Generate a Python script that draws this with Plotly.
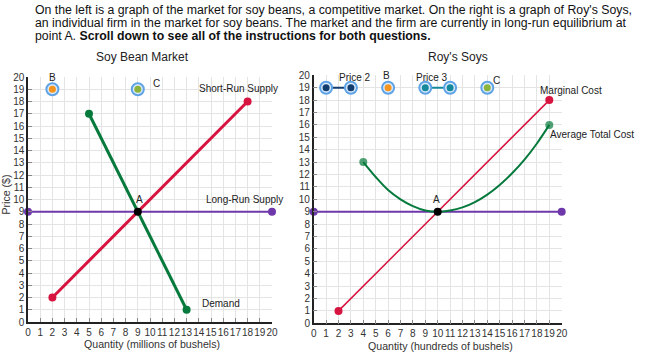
import plotly.graph_objects as go

# ---------------- data ----------------
intro_lines = [
    "On the left is a graph of the market for soy beans, a competitive market. On the right is a graph of Roy's Soys,",
    "an individual firm in the market for soy beans. The market and the firm are currently in long-run equilibrium at",
    "point A. <b>Scroll down to see all of the instructions for both questions.</b>",
]
left_title = "Soy Bean Market"
right_title = "Roy's Soys"

tick_vals = list(range(0, 21))

# Left: market
demand_q = [5, 13]
demand_p = [17, 1]
srs_q = [2, 18]
srs_p = [2, 18]
lrs_q = [0, 20]
lrs_p = [9, 9]
mkt_A = (9, 9)
mkt_B = (2, 19)
mkt_C = (9, 19)

# Right: firm
mc_q = [2, 19]
mc_p = [1, 18]
atc_q = [4, 5, 6, 7, 8, 9, 10, 11, 12, 13, 14, 15, 16, 17, 18, 19]
atc_p = [13, 11.8, 10.75, 10.0, 9.45, 9.1, 9.0, 9.1, 9.35, 9.78, 10.38, 11.16, 12.1, 13.2, 14.5, 16]
price_q = [0, 20]
price_p = [9, 9]
price2_q = [1, 3]
price2_p = [19, 19]
price3_q = [9, 11]
price3_p = [19, 19]
firm_A = (10, 9)
firm_B = (6, 19)
firm_C = (14, 19)

# ---------------- styles ----------------
W, H = 648, 357
FONT = "Liberation Sans, Arial, sans-serif"
GREEN = "#067a3c"
RED = "#d7143f"
PURPLE = "#6e37aa"
ORANGE = "#f7941d"
LIME = "#8cb43c"
NAVY = "#123d6e"
TEAL = "#14899c"
RING = "#5fa3e6"
RING_FILL = "#d9eafb"


def px_x(p):
    return p / W


def px_y(p):
    return 1 - p / H


fig = go.Figure()


def line(xs, ys, color, width, ax, marker_size=8, ends_only=False):
    xa, ya = ("x", "y") if ax == 1 else ("x2", "y2")
    if ends_only:
        sizes = [marker_size if i in (0, len(xs) - 1) else 0 for i in range(len(xs))]
    else:
        sizes = marker_size
    fig.add_trace(go.Scatter(
        x=xs, y=ys, mode="lines+markers", xaxis=xa, yaxis=ya,
        line=dict(color=color, width=width, shape="spline" if ends_only else "linear", smoothing=1.0),
        marker=dict(color=color, size=sizes, line=dict(width=0)),
        cliponaxis=False, showlegend=False, hoverinfo="skip"))


def ring_points(xs, ys, color, ax, connect=False):
    xa, ya = ("x", "y") if ax == 1 else ("x2", "y2")
    if connect:
        fig.add_trace(go.Scatter(x=xs, y=ys, mode="lines", xaxis=xa, yaxis=ya,
                                 line=dict(color=color, width=2), cliponaxis=False,
                                 showlegend=False, hoverinfo="skip"))
    fig.add_trace(go.Scatter(x=xs, y=ys, mode="markers", xaxis=xa, yaxis=ya,
                             marker=dict(color=RING_FILL, size=12, line=dict(color=RING, width=2)),
                             cliponaxis=False, showlegend=False, hoverinfo="skip"))
    fig.add_trace(go.Scatter(x=xs, y=ys, mode="markers", xaxis=xa, yaxis=ya,
                             marker=dict(color=color, size=7, line=dict(width=0)),
                             cliponaxis=False, showlegend=False, hoverinfo="skip"))


# Left chart
line(lrs_q, lrs_p, PURPLE, 2, 1, 8)
line(srs_q, srs_p, RED, 3, 1, 8)
line(demand_q, demand_p, GREEN, 3, 1, 8)
fig.add_trace(go.Scatter(x=[mkt_A[0]], y=[mkt_A[1]], mode="markers", marker=dict(color="black", size=8),
                         cliponaxis=False, showlegend=False, hoverinfo="skip"))
ring_points([mkt_B[0]], [mkt_B[1]], ORANGE, 1)
ring_points([mkt_C[0]], [mkt_C[1]], LIME, 1)

# Right chart
line(price_q, price_p, PURPLE, 2, 2, 8)
line(mc_q, mc_p, RED, 1.5, 2, 8)
line(atc_q, atc_p, GREEN, 2, 2, 8, ends_only=True)
fig.add_trace(go.Scatter(x=[firm_A[0]], y=[firm_A[1]], mode="markers", xaxis="x2", yaxis="y2",
                         marker=dict(color="black", size=8), cliponaxis=False,
                         showlegend=False, hoverinfo="skip"))
ring_points(price2_q, price2_p, NAVY, 2, connect=True)
ring_points([firm_B[0]], [firm_B[1]], ORANGE, 2)
ring_points(price3_q, price3_p, TEAL, 2, connect=True)
ring_points([firm_C[0]], [firm_C[1]], LIME, 2)

axis_common = dict(
    range=[0, 20], tickvals=tick_vals, ticktext=[str(v) for v in tick_vals],
    showgrid=True, gridcolor="#e4e4e4", gridwidth=1,
    showline=True, linecolor="#222", linewidth=1.5,
    ticks="inside", ticklen=4, tickcolor="#888", tickwidth=1,
    zeroline=False, fixedrange=True, automargin=False, tickangle=0,
    tickfont=dict(family=FONT, size=10, color="#333"),
)

fig.update_layout(
    width=W, height=H,
    margin=dict(l=0, r=0, t=0, b=0, autoexpand=False),
    paper_bgcolor="white", plot_bgcolor="white",
    font=dict(family=FONT, size=10, color="#222"),
    xaxis=dict(domain=[px_x(28), px_x(272)], anchor="y", **axis_common),
    yaxis=dict(domain=[px_y(322), px_y(77)], anchor="x", **axis_common),
    xaxis2=dict(domain=[px_x(313.7), px_x(561.7)], anchor="y2", **axis_common),
    yaxis2=dict(domain=[px_y(323.3), px_y(75.3)], anchor="x2", **axis_common),
)

ann = []
for i, t in enumerate(intro_lines):
    ann.append(dict(text=t, x=px_x(33), y=px_y(10 + 13 * i), xref="paper", yref="paper",
                    xanchor="left", yanchor="middle", showarrow=False,
                    font=dict(family=FONT, size=12.3, color="#111")))
ann.append(dict(text=left_title, x=px_x(142.5), y=px_y(56.5), xref="paper", yref="paper",
                xanchor="center", yanchor="middle", showarrow=False,
                font=dict(family=FONT, size=12, color="#222")))
ann.append(dict(text=right_title, x=px_x(458), y=px_y(56.5), xref="paper", yref="paper",
                xanchor="center", yanchor="middle", showarrow=False,
                font=dict(family=FONT, size=12, color="#222")))
ann.append(dict(text="Quantity (millions of bushels)", x=px_x(151.7), y=px_y(344), xref="paper", yref="paper",
                xanchor="center", yanchor="middle", showarrow=False, font=dict(family=FONT, size=10.6, color="#333")))
ann.append(dict(text="Quantity (hundreds of bushels)", x=px_x(440), y=px_y(345.5), xref="paper", yref="paper",
                xanchor="center", yanchor="middle", showarrow=False, font=dict(family=FONT, size=10.6, color="#333")))
ann.append(dict(text="Price ($)", x=px_x(5.5), y=px_y(195), xref="paper", yref="paper", textangle=-90,
                xanchor="center", yanchor="middle", showarrow=False, font=dict(family=FONT, size=10.6, color="#333")))


def lab(text, x, y, ax, xanchor="left"):
    xr, yr = ("x", "y") if ax == 1 else ("x2", "y2")
    ann.append(dict(text=text, x=x, y=y, xref=xr, yref=yr, xanchor=xanchor, yanchor="middle",
                    showarrow=False, font=dict(family=FONT, size=10, color="#222")))


lab("Short-Run Supply", 13.85, 19.05, 1)
lab("Long-Run Supply", 14.4, 10.0, 1)
lab("Demand", 14.1, 1.47, 1)
lab("A", 9.1, 10.0, 1, "center")
lab("B", 2.0, 20.0, 1, "center")
lab("C", 10.5, 19.5, 1, "center")

lab("Marginal Cost", 18.06, 18.8, 2)
lab("Average Total Cost", 18.9, 15.2, 2)
lab("Price", 20.4, 9.0, 2)
lab("A", 9.92, 9.95, 2, "center")
lab("Price 2", 3.33, 19.8, 2, "center")
lab("B", 5.9, 19.95, 2, "center")
lab("Price 3", 9.57, 19.8, 2, "center")
lab("C", 14.76, 19.6, 2, "center")

fig.update_layout(annotations=ann)
fig.write_html(
    "out.html",
    config={"displayModeBar": False},
    post_script="document.body.style.margin='0';document.body.style.padding='0';document.body.style.overflow='hidden';",
)
